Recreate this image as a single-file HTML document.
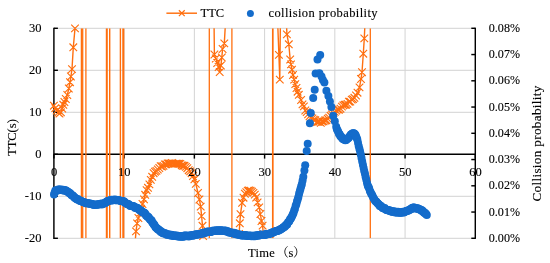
<!DOCTYPE html>
<html><head><meta charset="utf-8"><title>TTC and collision probability</title>
<style>html,body{margin:0;padding:0;background:#fff}svg{display:block}</style></head>
<body>
<svg width="550" height="263" viewBox="0 0 550 263">
<rect width="550" height="263" fill="#fff"/>
<g stroke="#D3D3D3" stroke-width="1" fill="none">
<line x1="53.9" y1="28.30" x2="475.3" y2="28.30"/>
<line x1="53.9" y1="70.30" x2="475.3" y2="70.30"/>
<line x1="53.9" y1="112.30" x2="475.3" y2="112.30"/>
<line x1="53.9" y1="196.30" x2="475.3" y2="196.30"/>
<line x1="53.9" y1="238.30" x2="475.3" y2="238.30"/>
<line x1="124.13" y1="28.3" x2="124.13" y2="238.3"/>
<line x1="194.37" y1="28.3" x2="194.37" y2="238.3"/>
<line x1="264.60" y1="28.3" x2="264.60" y2="238.3"/>
<line x1="334.83" y1="28.3" x2="334.83" y2="238.3"/>
<line x1="405.07" y1="28.3" x2="405.07" y2="238.3"/>
</g>
<g stroke="#000" stroke-width="1.45" fill="none">
<line x1="53.9" y1="27.7" x2="53.9" y2="238.9"/>
<line x1="475.3" y1="27.7" x2="475.3" y2="238.9"/>
<line x1="53.9" y1="154.3" x2="475.3" y2="154.3"/>
<line x1="53.9" y1="28.30" x2="57.9" y2="28.30"/>
<line x1="53.9" y1="70.30" x2="57.9" y2="70.30"/>
<line x1="53.9" y1="112.30" x2="57.9" y2="112.30"/>
<line x1="53.9" y1="154.30" x2="57.9" y2="154.30"/>
<line x1="53.9" y1="196.30" x2="57.9" y2="196.30"/>
<line x1="53.9" y1="238.30" x2="57.9" y2="238.30"/>
<line x1="471.3" y1="238.30" x2="475.3" y2="238.30"/>
<line x1="471.3" y1="212.05" x2="475.3" y2="212.05"/>
<line x1="471.3" y1="185.80" x2="475.3" y2="185.80"/>
<line x1="471.3" y1="159.55" x2="475.3" y2="159.55"/>
<line x1="471.3" y1="133.30" x2="475.3" y2="133.30"/>
<line x1="471.3" y1="107.05" x2="475.3" y2="107.05"/>
<line x1="471.3" y1="80.80" x2="475.3" y2="80.80"/>
<line x1="471.3" y1="54.55" x2="475.3" y2="54.55"/>
<line x1="471.3" y1="28.30" x2="475.3" y2="28.30"/>
<line x1="53.90" y1="154.3" x2="53.90" y2="158.6"/>
<line x1="124.13" y1="154.3" x2="124.13" y2="158.6"/>
<line x1="194.37" y1="154.3" x2="194.37" y2="158.6"/>
<line x1="264.60" y1="154.3" x2="264.60" y2="158.6"/>
<line x1="334.83" y1="154.3" x2="334.83" y2="158.6"/>
<line x1="405.07" y1="154.3" x2="405.07" y2="158.6"/>
<line x1="475.30" y1="154.3" x2="475.30" y2="158.6"/>
</g>
<defs><clipPath id="cp"><rect x="53.9" y="28.3" width="421.40000000000003" height="210.0"/></clipPath></defs>
<g clip-path="url(#cp)" stroke="#FF6F0F" fill="none" stroke-width="1.4" stroke-linejoin="round">
<line x1="81.4" y1="28.3" x2="81.4" y2="238.3" stroke-width="1.3"/>
<line x1="82.7" y1="28.3" x2="82.7" y2="238.3" stroke-width="1.3"/>
<line x1="85.9" y1="28.3" x2="85.9" y2="238.3" stroke-width="1.3"/>
<line x1="106.8" y1="28.3" x2="106.8" y2="238.3" stroke-width="2.0"/>
<line x1="109.7" y1="28.3" x2="109.7" y2="238.3" stroke-width="1.4"/>
<line x1="120.4" y1="28.3" x2="120.4" y2="238.3" stroke-width="1.4"/>
<line x1="123.3" y1="28.3" x2="123.3" y2="238.3" stroke-width="2.1"/>
<line x1="209.3" y1="28.3" x2="209.3" y2="238.3" stroke-width="1.3"/>
<line x1="231.9" y1="28.3" x2="231.9" y2="238.3" stroke-width="1.3"/>
<line x1="272.8" y1="28.3" x2="272.8" y2="238.3" stroke-width="1.7"/>
<line x1="370.3" y1="28.3" x2="370.3" y2="238.3" stroke-width="1.3"/>
<polyline points="53.9,105.7 55.3,108.2 56.7,110.6 58.1,112.5 59.5,113.5 60.9,112.3 62.2,108.5 63.3,104.8 64.4,102.0 65.8,99.0 67.3,95.0 68.8,88.5 70.0,82.2 70.9,76.5 72.0,69.1 73.3,47.3 75.0,28.4 75.6,10.0"/>
<polyline points="134.9,245.0 136.0,231.4 137.1,223.4 138.4,218.0 139.7,213.5 141.1,208.8 142.5,204.0 144.0,199.4 145.2,194.8 146.6,190.2 148.0,187.8 149.4,184.4 150.8,179.9 152.2,176.8 153.6,173.2 155.0,171.7 156.4,170.9 157.8,169.5 159.3,168.0 160.7,166.2 162.1,166.5 163.5,165.9 164.9,164.4 166.3,164.4 167.7,163.5 169.1,163.4 170.5,163.4 171.9,163.0 173.3,163.7 174.7,163.9 176.1,163.6 177.5,163.7 178.9,163.7 180.3,163.9 181.7,165.3 183.1,165.8 184.5,165.8 185.9,166.9 187.3,168.2 188.7,170.2 190.2,171.4 191.6,173.2 193.0,176.0 194.4,179.3 195.8,183.9 198.0,193.0 199.4,199.5 200.7,206.6 201.6,216.0 202.5,225.8 203.1,236.0 203.4,245.0"/>
<polyline points="213.9,10.0 214.4,54.5 215.8,58.5 217.2,63.0 218.6,67.0 219.7,72.1 220.9,65.5 221.8,57.5 222.6,49.0 224.3,43.4 225.3,26.0"/>
<polyline points="238.4,245.0 239.1,234.0 239.8,223.3 240.5,214.2 242.1,202.8 243.5,197.7 244.9,193.7 246.3,192.1 247.7,190.7 249.1,190.5 250.6,190.8 252.0,191.6 253.4,192.9 254.8,194.6 256.2,197.5 257.6,202.4 259.2,207.4 260.4,214.0 261.5,221.0 262.6,225.6 263.3,234.0 264.0,245.0"/>
<polyline points="277.2,10.0 278.9,54.9 279.8,79.6 280.5,10.0"/>
<polyline points="286.4,20.0 286.9,34.4 288.8,44.3 290.2,59.5 291.0,64.4 292.0,69.7 293.0,75.0 294.2,79.6 295.3,84.1 296.5,88.0 297.6,91.7 298.8,94.8 301.1,100.0 302.5,104.4 303.9,106.4 305.3,110.5 306.7,112.0 308.1,114.4 309.5,116.3 311.0,117.6 312.4,118.5 313.8,119.6 315.2,120.2 316.6,122.0 318.0,121.9 319.4,121.7 320.8,122.8 322.2,121.6 323.6,121.4 325.0,120.5 326.4,120.2 327.8,118.8 329.2,117.6 330.6,115.8 332.0,114.5 333.4,113.1 334.8,111.9 336.2,110.5 337.6,109.5 339.0,109.7 340.5,108.7 341.9,106.6 343.3,105.4 344.7,104.8 346.1,104.7 347.5,103.9 348.9,101.7 350.3,101.6 351.7,99.6 353.1,99.1 354.4,97.8 356.0,95.5 357.5,92.7 359.5,87.4 361.0,79.0 362.0,72.2 363.3,53.7 364.3,38.4 365.2,18.0"/>
</g>
<path d="M50.1 101.9l7.6 7.6M50.1 109.5l7.6 -7.6M51.5 104.4l7.6 7.6M51.5 112.0l7.6 -7.6M52.9 106.8l7.6 7.6M52.9 114.4l7.6 -7.6M54.3 108.7l7.6 7.6M54.3 116.3l7.6 -7.6M55.7 109.7l7.6 7.6M55.7 117.3l7.6 -7.6M57.1 108.5l7.6 7.6M57.1 116.1l7.6 -7.6M58.4 104.7l7.6 7.6M58.4 112.3l7.6 -7.6M59.5 101.0l7.6 7.6M59.5 108.6l7.6 -7.6M60.6 98.2l7.6 7.6M60.6 105.8l7.6 -7.6M62.0 95.2l7.6 7.6M62.0 102.8l7.6 -7.6M63.5 91.2l7.6 7.6M63.5 98.8l7.6 -7.6M65.0 84.7l7.6 7.6M65.0 92.3l7.6 -7.6M66.2 78.4l7.6 7.6M66.2 86.0l7.6 -7.6M67.1 72.7l7.6 7.6M67.1 80.3l7.6 -7.6M68.2 65.3l7.6 7.6M68.2 72.9l7.6 -7.6M69.5 43.5l7.6 7.6M69.5 51.1l7.6 -7.6M71.2 24.6l7.6 7.6M71.2 32.2l7.6 -7.6M132.2 227.6l7.6 7.6M132.2 235.2l7.6 -7.6M133.3 219.6l7.6 7.6M133.3 227.2l7.6 -7.6M134.6 214.2l7.6 7.6M134.6 221.8l7.6 -7.6M135.9 209.7l7.6 7.6M135.9 217.3l7.6 -7.6M137.3 205.0l7.6 7.6M137.3 212.6l7.6 -7.6M138.7 200.2l7.6 7.6M138.7 207.8l7.6 -7.6M140.2 195.6l7.6 7.6M140.2 203.2l7.6 -7.6M141.4 191.0l7.6 7.6M141.4 198.6l7.6 -7.6M142.8 186.4l7.6 7.6M142.8 194.0l7.6 -7.6M144.2 184.0l7.6 7.6M144.2 191.6l7.6 -7.6M145.6 180.6l7.6 7.6M145.6 188.2l7.6 -7.6M147.0 176.1l7.6 7.6M147.0 183.7l7.6 -7.6M148.4 173.0l7.6 7.6M148.4 180.6l7.6 -7.6M149.8 169.4l7.6 7.6M149.8 177.0l7.6 -7.6M151.2 167.9l7.6 7.6M151.2 175.5l7.6 -7.6M152.6 167.1l7.6 7.6M152.6 174.7l7.6 -7.6M154.0 165.7l7.6 7.6M154.0 173.3l7.6 -7.6M155.5 164.2l7.6 7.6M155.5 171.8l7.6 -7.6M156.9 162.4l7.6 7.6M156.9 170.0l7.6 -7.6M158.3 162.7l7.6 7.6M158.3 170.3l7.6 -7.6M159.7 162.1l7.6 7.6M159.7 169.7l7.6 -7.6M161.1 160.6l7.6 7.6M161.1 168.2l7.6 -7.6M162.5 160.6l7.6 7.6M162.5 168.2l7.6 -7.6M163.9 159.7l7.6 7.6M163.9 167.3l7.6 -7.6M165.3 159.6l7.6 7.6M165.3 167.2l7.6 -7.6M166.7 159.6l7.6 7.6M166.7 167.2l7.6 -7.6M168.1 159.2l7.6 7.6M168.1 166.8l7.6 -7.6M169.5 159.9l7.6 7.6M169.5 167.5l7.6 -7.6M170.9 160.1l7.6 7.6M170.9 167.7l7.6 -7.6M172.3 159.8l7.6 7.6M172.3 167.4l7.6 -7.6M173.7 159.9l7.6 7.6M173.7 167.5l7.6 -7.6M175.1 159.9l7.6 7.6M175.1 167.5l7.6 -7.6M176.5 160.1l7.6 7.6M176.5 167.7l7.6 -7.6M177.9 161.5l7.6 7.6M177.9 169.1l7.6 -7.6M179.3 162.0l7.6 7.6M179.3 169.6l7.6 -7.6M180.7 162.0l7.6 7.6M180.7 169.6l7.6 -7.6M182.1 163.1l7.6 7.6M182.1 170.7l7.6 -7.6M183.5 164.4l7.6 7.6M183.5 172.0l7.6 -7.6M184.9 166.4l7.6 7.6M184.9 174.0l7.6 -7.6M186.4 167.6l7.6 7.6M186.4 175.2l7.6 -7.6M187.8 169.4l7.6 7.6M187.8 177.0l7.6 -7.6M189.2 172.2l7.6 7.6M189.2 179.8l7.6 -7.6M190.6 175.5l7.6 7.6M190.6 183.1l7.6 -7.6M192.0 180.1l7.6 7.6M192.0 187.7l7.6 -7.6M194.2 189.2l7.6 7.6M194.2 196.8l7.6 -7.6M195.6 195.7l7.6 7.6M195.6 203.3l7.6 -7.6M196.9 202.8l7.6 7.6M196.9 210.4l7.6 -7.6M197.8 212.2l7.6 7.6M197.8 219.8l7.6 -7.6M198.7 222.0l7.6 7.6M198.7 229.6l7.6 -7.6M199.3 232.2l7.6 7.6M199.3 239.8l7.6 -7.6M210.6 50.7l7.6 7.6M210.6 58.3l7.6 -7.6M212.0 54.7l7.6 7.6M212.0 62.3l7.6 -7.6M213.4 59.2l7.6 7.6M213.4 66.8l7.6 -7.6M214.8 63.2l7.6 7.6M214.8 70.8l7.6 -7.6M215.9 68.3l7.6 7.6M215.9 75.9l7.6 -7.6M217.1 61.7l7.6 7.6M217.1 69.3l7.6 -7.6M218.0 53.7l7.6 7.6M218.0 61.3l7.6 -7.6M218.8 45.2l7.6 7.6M218.8 52.8l7.6 -7.6M220.5 39.6l7.6 7.6M220.5 47.2l7.6 -7.6M235.3 230.2l7.6 7.6M235.3 237.8l7.6 -7.6M236.0 219.5l7.6 7.6M236.0 227.1l7.6 -7.6M236.7 210.4l7.6 7.6M236.7 218.0l7.6 -7.6M238.3 199.0l7.6 7.6M238.3 206.6l7.6 -7.6M239.7 193.9l7.6 7.6M239.7 201.5l7.6 -7.6M241.1 189.9l7.6 7.6M241.1 197.5l7.6 -7.6M242.5 188.3l7.6 7.6M242.5 195.9l7.6 -7.6M243.9 186.9l7.6 7.6M243.9 194.5l7.6 -7.6M245.3 186.7l7.6 7.6M245.3 194.3l7.6 -7.6M246.8 187.0l7.6 7.6M246.8 194.6l7.6 -7.6M248.2 187.8l7.6 7.6M248.2 195.4l7.6 -7.6M249.6 189.1l7.6 7.6M249.6 196.7l7.6 -7.6M251.0 190.8l7.6 7.6M251.0 198.4l7.6 -7.6M252.4 193.7l7.6 7.6M252.4 201.3l7.6 -7.6M253.8 198.6l7.6 7.6M253.8 206.2l7.6 -7.6M255.4 203.6l7.6 7.6M255.4 211.2l7.6 -7.6M256.6 210.2l7.6 7.6M256.6 217.8l7.6 -7.6M257.7 217.2l7.6 7.6M257.7 224.8l7.6 -7.6M258.8 221.8l7.6 7.6M258.8 229.4l7.6 -7.6M259.5 230.2l7.6 7.6M259.5 237.8l7.6 -7.6M275.1 51.1l7.6 7.6M275.1 58.7l7.6 -7.6M276.0 75.8l7.6 7.6M276.0 83.4l7.6 -7.6M283.1 30.6l7.6 7.6M283.1 38.2l7.6 -7.6M285.0 40.5l7.6 7.6M285.0 48.1l7.6 -7.6M286.4 55.7l7.6 7.6M286.4 63.3l7.6 -7.6M287.2 60.6l7.6 7.6M287.2 68.2l7.6 -7.6M288.2 65.9l7.6 7.6M288.2 73.5l7.6 -7.6M289.2 71.2l7.6 7.6M289.2 78.8l7.6 -7.6M290.4 75.8l7.6 7.6M290.4 83.4l7.6 -7.6M291.5 80.3l7.6 7.6M291.5 87.9l7.6 -7.6M292.7 84.2l7.6 7.6M292.7 91.8l7.6 -7.6M293.8 87.9l7.6 7.6M293.8 95.5l7.6 -7.6M295.0 91.0l7.6 7.6M295.0 98.6l7.6 -7.6M297.3 96.2l7.6 7.6M297.3 103.8l7.6 -7.6M298.7 100.6l7.6 7.6M298.7 108.2l7.6 -7.6M300.1 102.6l7.6 7.6M300.1 110.2l7.6 -7.6M301.5 106.7l7.6 7.6M301.5 114.3l7.6 -7.6M302.9 108.2l7.6 7.6M302.9 115.8l7.6 -7.6M304.3 110.6l7.6 7.6M304.3 118.2l7.6 -7.6M305.7 112.5l7.6 7.6M305.7 120.1l7.6 -7.6M307.2 113.8l7.6 7.6M307.2 121.4l7.6 -7.6M308.6 114.7l7.6 7.6M308.6 122.3l7.6 -7.6M310.0 115.8l7.6 7.6M310.0 123.4l7.6 -7.6M311.4 116.4l7.6 7.6M311.4 124.0l7.6 -7.6M312.8 118.2l7.6 7.6M312.8 125.8l7.6 -7.6M314.2 118.1l7.6 7.6M314.2 125.7l7.6 -7.6M315.6 117.9l7.6 7.6M315.6 125.5l7.6 -7.6M317.0 119.0l7.6 7.6M317.0 126.6l7.6 -7.6M318.4 117.8l7.6 7.6M318.4 125.4l7.6 -7.6M319.8 117.6l7.6 7.6M319.8 125.2l7.6 -7.6M321.2 116.7l7.6 7.6M321.2 124.3l7.6 -7.6M322.6 116.4l7.6 7.6M322.6 124.0l7.6 -7.6M324.0 115.0l7.6 7.6M324.0 122.6l7.6 -7.6M325.4 113.8l7.6 7.6M325.4 121.4l7.6 -7.6M326.8 112.0l7.6 7.6M326.8 119.6l7.6 -7.6M328.2 110.7l7.6 7.6M328.2 118.3l7.6 -7.6M329.6 109.3l7.6 7.6M329.6 116.9l7.6 -7.6M331.0 108.1l7.6 7.6M331.0 115.7l7.6 -7.6M332.4 106.7l7.6 7.6M332.4 114.3l7.6 -7.6M333.8 105.7l7.6 7.6M333.8 113.3l7.6 -7.6M335.2 105.9l7.6 7.6M335.2 113.5l7.6 -7.6M336.7 104.9l7.6 7.6M336.7 112.5l7.6 -7.6M338.1 102.8l7.6 7.6M338.1 110.4l7.6 -7.6M339.5 101.6l7.6 7.6M339.5 109.2l7.6 -7.6M340.9 101.0l7.6 7.6M340.9 108.6l7.6 -7.6M342.3 100.9l7.6 7.6M342.3 108.5l7.6 -7.6M343.7 100.1l7.6 7.6M343.7 107.7l7.6 -7.6M345.1 97.9l7.6 7.6M345.1 105.5l7.6 -7.6M346.5 97.8l7.6 7.6M346.5 105.4l7.6 -7.6M347.9 95.8l7.6 7.6M347.9 103.4l7.6 -7.6M349.3 95.3l7.6 7.6M349.3 102.9l7.6 -7.6M350.6 94.0l7.6 7.6M350.6 101.6l7.6 -7.6M352.2 91.7l7.6 7.6M352.2 99.3l7.6 -7.6M353.7 88.9l7.6 7.6M353.7 96.5l7.6 -7.6M355.7 83.6l7.6 7.6M355.7 91.2l7.6 -7.6M357.2 75.2l7.6 7.6M357.2 82.8l7.6 -7.6M358.2 68.4l7.6 7.6M358.2 76.0l7.6 -7.6M359.5 49.9l7.6 7.6M359.5 57.5l7.6 -7.6M360.5 34.6l7.6 7.6M360.5 42.2l7.6 -7.6" stroke="#FF6F0F" stroke-width="1.15" fill="none"/>
<g fill="#146CCB">
<circle cx="54.0" cy="194.4" r="4.0"/>
<circle cx="54.7" cy="192.4" r="4.0"/>
<circle cx="55.4" cy="190.6" r="4.0"/>
<circle cx="56.1" cy="190.5" r="4.0"/>
<circle cx="56.8" cy="190.6" r="4.0"/>
<circle cx="57.5" cy="190.5" r="4.0"/>
<circle cx="58.2" cy="189.6" r="4.0"/>
<circle cx="58.9" cy="189.7" r="4.0"/>
<circle cx="59.6" cy="189.5" r="4.0"/>
<circle cx="60.3" cy="189.9" r="4.0"/>
<circle cx="61.0" cy="189.5" r="4.0"/>
<circle cx="61.7" cy="190.0" r="4.0"/>
<circle cx="62.4" cy="190.2" r="4.0"/>
<circle cx="63.1" cy="189.8" r="4.0"/>
<circle cx="63.8" cy="190.4" r="4.0"/>
<circle cx="64.5" cy="190.4" r="4.0"/>
<circle cx="65.2" cy="190.0" r="4.0"/>
<circle cx="65.9" cy="190.8" r="4.0"/>
<circle cx="66.6" cy="190.9" r="4.0"/>
<circle cx="67.3" cy="191.5" r="4.0"/>
<circle cx="68.0" cy="191.8" r="4.0"/>
<circle cx="68.7" cy="192.7" r="4.0"/>
<circle cx="69.5" cy="193.0" r="4.0"/>
<circle cx="70.2" cy="193.3" r="4.0"/>
<circle cx="70.9" cy="194.3" r="4.0"/>
<circle cx="71.6" cy="195.2" r="4.0"/>
<circle cx="72.3" cy="195.2" r="4.0"/>
<circle cx="73.0" cy="195.7" r="4.0"/>
<circle cx="73.7" cy="196.4" r="4.0"/>
<circle cx="74.4" cy="197.5" r="4.0"/>
<circle cx="75.1" cy="198.1" r="4.0"/>
<circle cx="75.8" cy="198.2" r="4.0"/>
<circle cx="76.5" cy="199.0" r="4.0"/>
<circle cx="77.2" cy="199.4" r="4.0"/>
<circle cx="77.9" cy="199.3" r="4.0"/>
<circle cx="78.6" cy="199.4" r="4.0"/>
<circle cx="79.3" cy="200.4" r="4.0"/>
<circle cx="80.0" cy="200.8" r="4.0"/>
<circle cx="80.7" cy="200.9" r="4.0"/>
<circle cx="81.4" cy="201.1" r="4.0"/>
<circle cx="82.1" cy="201.6" r="4.0"/>
<circle cx="82.8" cy="201.9" r="4.0"/>
<circle cx="83.5" cy="202.0" r="4.0"/>
<circle cx="84.2" cy="202.2" r="4.0"/>
<circle cx="84.9" cy="202.6" r="4.0"/>
<circle cx="85.6" cy="203.3" r="4.0"/>
<circle cx="86.3" cy="203.2" r="4.0"/>
<circle cx="87.0" cy="203.0" r="4.0"/>
<circle cx="87.7" cy="203.2" r="4.0"/>
<circle cx="88.4" cy="203.5" r="4.0"/>
<circle cx="89.1" cy="203.4" r="4.0"/>
<circle cx="89.8" cy="203.5" r="4.0"/>
<circle cx="90.5" cy="204.0" r="4.0"/>
<circle cx="91.2" cy="203.7" r="4.0"/>
<circle cx="91.9" cy="204.2" r="4.0"/>
<circle cx="92.6" cy="204.2" r="4.0"/>
<circle cx="93.3" cy="204.7" r="4.0"/>
<circle cx="94.0" cy="204.8" r="4.0"/>
<circle cx="94.7" cy="204.8" r="4.0"/>
<circle cx="95.4" cy="204.8" r="4.0"/>
<circle cx="96.1" cy="204.4" r="4.0"/>
<circle cx="96.8" cy="204.8" r="4.0"/>
<circle cx="97.5" cy="204.4" r="4.0"/>
<circle cx="98.2" cy="204.6" r="4.0"/>
<circle cx="98.9" cy="204.3" r="4.0"/>
<circle cx="99.7" cy="204.3" r="4.0"/>
<circle cx="100.4" cy="203.8" r="4.0"/>
<circle cx="101.1" cy="203.8" r="4.0"/>
<circle cx="101.8" cy="204.4" r="4.0"/>
<circle cx="102.5" cy="203.4" r="4.0"/>
<circle cx="103.2" cy="203.7" r="4.0"/>
<circle cx="103.9" cy="203.4" r="4.0"/>
<circle cx="104.6" cy="203.3" r="4.0"/>
<circle cx="105.3" cy="202.7" r="4.0"/>
<circle cx="106.0" cy="202.5" r="4.0"/>
<circle cx="106.7" cy="201.6" r="4.0"/>
<circle cx="107.4" cy="201.3" r="4.0"/>
<circle cx="108.1" cy="201.1" r="4.0"/>
<circle cx="108.8" cy="200.8" r="4.0"/>
<circle cx="109.5" cy="200.4" r="4.0"/>
<circle cx="110.2" cy="200.2" r="4.0"/>
<circle cx="110.9" cy="200.4" r="4.0"/>
<circle cx="111.6" cy="199.8" r="4.0"/>
<circle cx="112.3" cy="200.4" r="4.0"/>
<circle cx="113.0" cy="199.9" r="4.0"/>
<circle cx="113.7" cy="199.7" r="4.0"/>
<circle cx="114.4" cy="199.9" r="4.0"/>
<circle cx="115.1" cy="199.5" r="4.0"/>
<circle cx="115.8" cy="200.2" r="4.0"/>
<circle cx="116.5" cy="200.2" r="4.0"/>
<circle cx="117.2" cy="200.1" r="4.0"/>
<circle cx="117.9" cy="199.9" r="4.0"/>
<circle cx="118.6" cy="200.3" r="4.0"/>
<circle cx="119.3" cy="200.4" r="4.0"/>
<circle cx="120.0" cy="200.5" r="4.0"/>
<circle cx="120.7" cy="201.0" r="4.0"/>
<circle cx="121.4" cy="200.9" r="4.0"/>
<circle cx="122.1" cy="200.9" r="4.0"/>
<circle cx="122.8" cy="201.4" r="4.0"/>
<circle cx="123.5" cy="201.3" r="4.0"/>
<circle cx="124.2" cy="201.6" r="4.0"/>
<circle cx="124.9" cy="202.5" r="4.0"/>
<circle cx="125.6" cy="203.0" r="4.0"/>
<circle cx="126.3" cy="203.6" r="4.0"/>
<circle cx="127.0" cy="203.9" r="4.0"/>
<circle cx="127.7" cy="204.0" r="4.0"/>
<circle cx="128.4" cy="204.0" r="4.0"/>
<circle cx="129.1" cy="204.8" r="4.0"/>
<circle cx="129.9" cy="205.7" r="4.0"/>
<circle cx="130.6" cy="205.9" r="4.0"/>
<circle cx="131.3" cy="205.8" r="4.0"/>
<circle cx="132.0" cy="206.1" r="4.0"/>
<circle cx="132.7" cy="206.1" r="4.0"/>
<circle cx="133.4" cy="206.3" r="4.0"/>
<circle cx="134.1" cy="206.5" r="4.0"/>
<circle cx="134.8" cy="207.7" r="4.0"/>
<circle cx="135.5" cy="207.7" r="4.0"/>
<circle cx="136.2" cy="207.5" r="4.0"/>
<circle cx="136.9" cy="208.2" r="4.0"/>
<circle cx="137.6" cy="208.1" r="4.0"/>
<circle cx="138.3" cy="208.7" r="4.0"/>
<circle cx="139.0" cy="209.7" r="4.0"/>
<circle cx="139.7" cy="210.1" r="4.0"/>
<circle cx="140.4" cy="210.4" r="4.0"/>
<circle cx="141.1" cy="210.6" r="4.0"/>
<circle cx="141.8" cy="211.6" r="4.0"/>
<circle cx="142.5" cy="212.4" r="4.0"/>
<circle cx="143.2" cy="212.4" r="4.0"/>
<circle cx="143.9" cy="212.6" r="4.0"/>
<circle cx="144.6" cy="213.1" r="4.0"/>
<circle cx="145.3" cy="213.8" r="4.0"/>
<circle cx="146.0" cy="215.4" r="4.0"/>
<circle cx="146.7" cy="215.7" r="4.0"/>
<circle cx="147.4" cy="216.7" r="4.0"/>
<circle cx="148.1" cy="216.7" r="4.0"/>
<circle cx="148.8" cy="217.6" r="4.0"/>
<circle cx="149.5" cy="218.8" r="4.0"/>
<circle cx="150.2" cy="219.8" r="4.0"/>
<circle cx="150.9" cy="220.0" r="4.0"/>
<circle cx="151.6" cy="220.6" r="4.0"/>
<circle cx="152.3" cy="222.5" r="4.0"/>
<circle cx="153.0" cy="222.9" r="4.0"/>
<circle cx="153.7" cy="224.4" r="4.0"/>
<circle cx="154.4" cy="224.8" r="4.0"/>
<circle cx="155.1" cy="226.4" r="4.0"/>
<circle cx="155.8" cy="227.4" r="4.0"/>
<circle cx="156.5" cy="228.1" r="4.0"/>
<circle cx="157.2" cy="228.4" r="4.0"/>
<circle cx="157.9" cy="229.4" r="4.0"/>
<circle cx="158.6" cy="229.4" r="4.0"/>
<circle cx="159.4" cy="230.2" r="4.0"/>
<circle cx="160.1" cy="230.9" r="4.0"/>
<circle cx="160.8" cy="231.9" r="4.0"/>
<circle cx="161.5" cy="231.6" r="4.0"/>
<circle cx="162.2" cy="232.8" r="4.0"/>
<circle cx="162.9" cy="233.1" r="4.0"/>
<circle cx="163.6" cy="233.5" r="4.0"/>
<circle cx="164.3" cy="233.2" r="4.0"/>
<circle cx="165.0" cy="233.2" r="4.0"/>
<circle cx="165.7" cy="233.5" r="4.0"/>
<circle cx="166.4" cy="234.4" r="4.0"/>
<circle cx="167.1" cy="234.7" r="4.0"/>
<circle cx="167.8" cy="234.6" r="4.0"/>
<circle cx="168.5" cy="234.6" r="4.0"/>
<circle cx="169.2" cy="234.5" r="4.0"/>
<circle cx="169.9" cy="235.3" r="4.0"/>
<circle cx="170.6" cy="235.4" r="4.0"/>
<circle cx="171.3" cy="234.7" r="4.0"/>
<circle cx="172.0" cy="234.9" r="4.0"/>
<circle cx="172.7" cy="235.7" r="4.0"/>
<circle cx="173.4" cy="235.9" r="4.0"/>
<circle cx="174.1" cy="235.4" r="4.0"/>
<circle cx="174.8" cy="235.4" r="4.0"/>
<circle cx="175.5" cy="235.7" r="4.0"/>
<circle cx="176.2" cy="235.9" r="4.0"/>
<circle cx="176.9" cy="235.5" r="4.0"/>
<circle cx="177.6" cy="236.4" r="4.0"/>
<circle cx="178.3" cy="236.1" r="4.0"/>
<circle cx="179.0" cy="236.4" r="4.0"/>
<circle cx="179.7" cy="235.9" r="4.0"/>
<circle cx="180.4" cy="236.7" r="4.0"/>
<circle cx="181.1" cy="236.5" r="4.0"/>
<circle cx="181.8" cy="236.0" r="4.0"/>
<circle cx="182.5" cy="236.7" r="4.0"/>
<circle cx="183.2" cy="236.4" r="4.0"/>
<circle cx="183.9" cy="236.5" r="4.0"/>
<circle cx="184.6" cy="235.6" r="4.0"/>
<circle cx="185.3" cy="235.6" r="4.0"/>
<circle cx="186.0" cy="236.3" r="4.0"/>
<circle cx="186.7" cy="235.8" r="4.0"/>
<circle cx="187.4" cy="236.0" r="4.0"/>
<circle cx="188.1" cy="235.5" r="4.0"/>
<circle cx="188.8" cy="236.4" r="4.0"/>
<circle cx="189.6" cy="235.8" r="4.0"/>
<circle cx="190.3" cy="236.1" r="4.0"/>
<circle cx="191.0" cy="235.2" r="4.0"/>
<circle cx="191.7" cy="235.6" r="4.0"/>
<circle cx="192.4" cy="235.0" r="4.0"/>
<circle cx="193.1" cy="235.8" r="4.0"/>
<circle cx="193.8" cy="235.3" r="4.0"/>
<circle cx="194.5" cy="234.7" r="4.0"/>
<circle cx="195.2" cy="234.6" r="4.0"/>
<circle cx="195.9" cy="235.0" r="4.0"/>
<circle cx="196.6" cy="234.3" r="4.0"/>
<circle cx="197.3" cy="234.3" r="4.0"/>
<circle cx="198.0" cy="234.4" r="4.0"/>
<circle cx="198.7" cy="234.3" r="4.0"/>
<circle cx="199.4" cy="234.2" r="4.0"/>
<circle cx="200.1" cy="234.1" r="4.0"/>
<circle cx="200.8" cy="233.7" r="4.0"/>
<circle cx="201.5" cy="233.8" r="4.0"/>
<circle cx="202.2" cy="233.1" r="4.0"/>
<circle cx="202.9" cy="233.1" r="4.0"/>
<circle cx="203.6" cy="233.5" r="4.0"/>
<circle cx="204.3" cy="232.6" r="4.0"/>
<circle cx="205.0" cy="232.5" r="4.0"/>
<circle cx="205.7" cy="232.4" r="4.0"/>
<circle cx="206.4" cy="232.4" r="4.0"/>
<circle cx="207.1" cy="231.7" r="4.0"/>
<circle cx="207.8" cy="231.6" r="4.0"/>
<circle cx="208.5" cy="231.9" r="4.0"/>
<circle cx="209.2" cy="231.5" r="4.0"/>
<circle cx="209.9" cy="231.9" r="4.0"/>
<circle cx="210.6" cy="231.9" r="4.0"/>
<circle cx="211.3" cy="231.6" r="4.0"/>
<circle cx="212.0" cy="231.6" r="4.0"/>
<circle cx="212.7" cy="231.1" r="4.0"/>
<circle cx="213.4" cy="230.6" r="4.0"/>
<circle cx="214.1" cy="230.9" r="4.0"/>
<circle cx="214.8" cy="230.8" r="4.0"/>
<circle cx="215.5" cy="230.9" r="4.0"/>
<circle cx="216.2" cy="230.3" r="4.0"/>
<circle cx="216.9" cy="230.4" r="4.0"/>
<circle cx="217.6" cy="230.9" r="4.0"/>
<circle cx="218.3" cy="230.3" r="4.0"/>
<circle cx="219.0" cy="230.4" r="4.0"/>
<circle cx="219.8" cy="231.0" r="4.0"/>
<circle cx="220.5" cy="230.3" r="4.0"/>
<circle cx="221.2" cy="230.2" r="4.0"/>
<circle cx="221.9" cy="230.8" r="4.0"/>
<circle cx="222.6" cy="230.8" r="4.0"/>
<circle cx="223.3" cy="230.9" r="4.0"/>
<circle cx="224.0" cy="230.4" r="4.0"/>
<circle cx="224.7" cy="231.0" r="4.0"/>
<circle cx="225.4" cy="230.6" r="4.0"/>
<circle cx="226.1" cy="231.1" r="4.0"/>
<circle cx="226.8" cy="231.7" r="4.0"/>
<circle cx="227.5" cy="231.2" r="4.0"/>
<circle cx="228.2" cy="231.6" r="4.0"/>
<circle cx="228.9" cy="232.5" r="4.0"/>
<circle cx="229.6" cy="232.6" r="4.0"/>
<circle cx="230.3" cy="232.2" r="4.0"/>
<circle cx="231.0" cy="232.7" r="4.0"/>
<circle cx="231.7" cy="232.7" r="4.0"/>
<circle cx="232.4" cy="232.8" r="4.0"/>
<circle cx="233.1" cy="233.4" r="4.0"/>
<circle cx="233.8" cy="232.8" r="4.0"/>
<circle cx="234.5" cy="233.8" r="4.0"/>
<circle cx="235.2" cy="233.1" r="4.0"/>
<circle cx="235.9" cy="234.2" r="4.0"/>
<circle cx="236.6" cy="234.2" r="4.0"/>
<circle cx="237.3" cy="234.2" r="4.0"/>
<circle cx="238.0" cy="234.6" r="4.0"/>
<circle cx="238.7" cy="234.6" r="4.0"/>
<circle cx="239.4" cy="235.1" r="4.0"/>
<circle cx="240.1" cy="234.5" r="4.0"/>
<circle cx="240.8" cy="235.0" r="4.0"/>
<circle cx="241.5" cy="235.5" r="4.0"/>
<circle cx="242.2" cy="235.6" r="4.0"/>
<circle cx="242.9" cy="234.9" r="4.0"/>
<circle cx="243.6" cy="235.0" r="4.0"/>
<circle cx="244.3" cy="235.8" r="4.0"/>
<circle cx="245.0" cy="235.3" r="4.0"/>
<circle cx="245.7" cy="235.0" r="4.0"/>
<circle cx="246.4" cy="235.8" r="4.0"/>
<circle cx="247.1" cy="235.5" r="4.0"/>
<circle cx="247.8" cy="235.9" r="4.0"/>
<circle cx="248.5" cy="235.7" r="4.0"/>
<circle cx="249.2" cy="235.7" r="4.0"/>
<circle cx="250.0" cy="235.7" r="4.0"/>
<circle cx="250.7" cy="235.6" r="4.0"/>
<circle cx="251.4" cy="236.2" r="4.0"/>
<circle cx="252.1" cy="236.0" r="4.0"/>
<circle cx="252.8" cy="236.1" r="4.0"/>
<circle cx="253.5" cy="236.2" r="4.0"/>
<circle cx="254.2" cy="235.5" r="4.0"/>
<circle cx="254.9" cy="236.2" r="4.0"/>
<circle cx="255.6" cy="236.1" r="4.0"/>
<circle cx="256.3" cy="235.6" r="4.0"/>
<circle cx="257.0" cy="235.6" r="4.0"/>
<circle cx="257.7" cy="235.1" r="4.0"/>
<circle cx="258.4" cy="235.7" r="4.0"/>
<circle cx="259.1" cy="235.0" r="4.0"/>
<circle cx="259.8" cy="235.3" r="4.0"/>
<circle cx="260.5" cy="234.8" r="4.0"/>
<circle cx="261.2" cy="234.6" r="4.0"/>
<circle cx="261.9" cy="235.1" r="4.0"/>
<circle cx="262.6" cy="234.9" r="4.0"/>
<circle cx="263.3" cy="235.0" r="4.0"/>
<circle cx="264.0" cy="235.0" r="4.0"/>
<circle cx="264.7" cy="235.1" r="4.0"/>
<circle cx="265.4" cy="234.0" r="4.0"/>
<circle cx="266.1" cy="234.5" r="4.0"/>
<circle cx="266.8" cy="234.3" r="4.0"/>
<circle cx="267.5" cy="234.2" r="4.0"/>
<circle cx="268.2" cy="233.9" r="4.0"/>
<circle cx="268.9" cy="233.8" r="4.0"/>
<circle cx="269.6" cy="233.9" r="4.0"/>
<circle cx="270.3" cy="233.3" r="4.0"/>
<circle cx="271.0" cy="233.2" r="4.0"/>
<circle cx="271.7" cy="233.2" r="4.0"/>
<circle cx="272.4" cy="232.3" r="4.0"/>
<circle cx="273.1" cy="232.5" r="4.0"/>
<circle cx="273.8" cy="231.9" r="4.0"/>
<circle cx="274.5" cy="231.7" r="4.0"/>
<circle cx="275.2" cy="231.3" r="4.0"/>
<circle cx="275.9" cy="231.2" r="4.0"/>
<circle cx="276.6" cy="230.9" r="4.0"/>
<circle cx="277.3" cy="230.9" r="4.0"/>
<circle cx="278.0" cy="230.6" r="4.0"/>
<circle cx="278.7" cy="230.5" r="4.0"/>
<circle cx="279.4" cy="229.8" r="4.0"/>
<circle cx="280.2" cy="229.8" r="4.0"/>
<circle cx="280.9" cy="228.9" r="4.0"/>
<circle cx="281.6" cy="228.8" r="4.0"/>
<circle cx="282.3" cy="228.2" r="4.0"/>
<circle cx="283.0" cy="227.8" r="4.0"/>
<circle cx="283.7" cy="226.9" r="4.0"/>
<circle cx="284.4" cy="227.0" r="4.0"/>
<circle cx="285.1" cy="226.3" r="4.0"/>
<circle cx="285.8" cy="224.9" r="4.0"/>
<circle cx="286.5" cy="224.7" r="4.0"/>
<circle cx="287.2" cy="224.4" r="4.0"/>
<circle cx="287.9" cy="222.5" r="4.0"/>
<circle cx="288.6" cy="221.8" r="4.0"/>
<circle cx="289.3" cy="221.2" r="4.0"/>
<circle cx="290.0" cy="219.3" r="4.0"/>
<circle cx="290.7" cy="218.8" r="4.0"/>
<circle cx="291.4" cy="217.4" r="4.0"/>
<circle cx="292.1" cy="216.1" r="4.0"/>
<circle cx="292.8" cy="214.4" r="4.0"/>
<circle cx="293.5" cy="213.1" r="4.0"/>
<circle cx="294.2" cy="210.6" r="4.0"/>
<circle cx="294.9" cy="208.9" r="4.0"/>
<circle cx="295.6" cy="206.1" r="4.0"/>
<circle cx="296.3" cy="204.3" r="4.0"/>
<circle cx="297.0" cy="201.6" r="4.0"/>
<circle cx="297.7" cy="199.6" r="4.0"/>
<circle cx="298.4" cy="197.0" r="4.0"/>
<circle cx="299.1" cy="193.7" r="4.0"/>
<circle cx="299.8" cy="191.2" r="4.0"/>
<circle cx="300.5" cy="188.8" r="4.0"/>
<circle cx="301.2" cy="186.2" r="4.0"/>
<circle cx="301.9" cy="183.9" r="4.0"/>
<circle cx="302.6" cy="180.4" r="4.0"/>
<circle cx="303.3" cy="176.7" r="4.0"/>
<circle cx="304.4" cy="170.5" r="4.0"/>
<circle cx="305.2" cy="165.3" r="4.0"/>
<circle cx="306.7" cy="150.9" r="4.0"/>
<circle cx="307.7" cy="143.7" r="4.0"/>
<circle cx="309.9" cy="123.2" r="4.0"/>
<circle cx="310.8" cy="113.1" r="4.0"/>
<circle cx="313.2" cy="98.1" r="4.0"/>
<circle cx="314.7" cy="89.8" r="4.0"/>
<circle cx="315.6" cy="73.5" r="4.0"/>
<circle cx="317.5" cy="59.5" r="4.0"/>
<circle cx="320.2" cy="55.0" r="4.0"/>
<circle cx="319.4" cy="73.3" r="4.0"/>
<circle cx="321.5" cy="76.6" r="4.0"/>
<circle cx="322.9" cy="80.1" r="4.0"/>
<circle cx="324.4" cy="82.5" r="4.0"/>
<circle cx="326.4" cy="90.7" r="4.0"/>
<circle cx="328.4" cy="96.1" r="4.0"/>
<circle cx="329.9" cy="101.6" r="4.0"/>
<circle cx="331.4" cy="107.1" r="4.0"/>
<circle cx="333.2" cy="115.7" r="4.0"/>
<circle cx="334.8" cy="121.3" r="4.0"/>
<circle cx="336.2" cy="126.8" r="4.0"/>
<circle cx="336.9" cy="129.3" r="4.0"/>
<circle cx="337.6" cy="130.6" r="4.0"/>
<circle cx="338.3" cy="131.9" r="4.0"/>
<circle cx="339.0" cy="134.1" r="4.0"/>
<circle cx="339.7" cy="134.3" r="4.0"/>
<circle cx="340.4" cy="136.3" r="4.0"/>
<circle cx="341.1" cy="136.5" r="4.0"/>
<circle cx="341.8" cy="137.4" r="4.0"/>
<circle cx="342.5" cy="138.8" r="4.0"/>
<circle cx="343.2" cy="138.7" r="4.0"/>
<circle cx="343.9" cy="139.4" r="4.0"/>
<circle cx="344.6" cy="139.5" r="4.0"/>
<circle cx="345.3" cy="140.2" r="4.0"/>
<circle cx="346.0" cy="140.0" r="4.0"/>
<circle cx="346.7" cy="139.4" r="4.0"/>
<circle cx="347.4" cy="138.4" r="4.0"/>
<circle cx="348.1" cy="138.2" r="4.0"/>
<circle cx="348.8" cy="137.7" r="4.0"/>
<circle cx="349.5" cy="136.5" r="4.0"/>
<circle cx="350.2" cy="135.7" r="4.0"/>
<circle cx="350.9" cy="134.5" r="4.0"/>
<circle cx="351.6" cy="134.2" r="4.0"/>
<circle cx="352.4" cy="133.6" r="4.0"/>
<circle cx="353.1" cy="133.3" r="4.0"/>
<circle cx="353.8" cy="133.3" r="4.0"/>
<circle cx="354.5" cy="133.8" r="4.0"/>
<circle cx="355.2" cy="134.5" r="4.0"/>
<circle cx="355.9" cy="135.7" r="4.0"/>
<circle cx="356.6" cy="137.8" r="4.0"/>
<circle cx="357.3" cy="139.6" r="4.0"/>
<circle cx="358.0" cy="142.8" r="4.0"/>
<circle cx="358.7" cy="146.0" r="4.0"/>
<circle cx="359.4" cy="148.8" r="4.0"/>
<circle cx="360.1" cy="151.5" r="4.0"/>
<circle cx="360.8" cy="154.4" r="4.0"/>
<circle cx="361.5" cy="157.9" r="4.0"/>
<circle cx="362.2" cy="161.4" r="4.0"/>
<circle cx="362.9" cy="164.7" r="4.0"/>
<circle cx="363.6" cy="167.9" r="4.0"/>
<circle cx="364.3" cy="171.3" r="4.0"/>
<circle cx="365.0" cy="174.0" r="4.0"/>
<circle cx="365.7" cy="177.3" r="4.0"/>
<circle cx="366.4" cy="180.0" r="4.0"/>
<circle cx="367.1" cy="183.2" r="4.0"/>
<circle cx="367.8" cy="185.8" r="4.0"/>
<circle cx="368.5" cy="186.9" r="4.0"/>
<circle cx="369.2" cy="188.6" r="4.0"/>
<circle cx="369.9" cy="191.1" r="4.0"/>
<circle cx="370.6" cy="192.2" r="4.0"/>
<circle cx="371.3" cy="193.9" r="4.0"/>
<circle cx="372.0" cy="194.8" r="4.0"/>
<circle cx="372.7" cy="196.2" r="4.0"/>
<circle cx="373.4" cy="197.9" r="4.0"/>
<circle cx="374.1" cy="198.9" r="4.0"/>
<circle cx="374.8" cy="200.2" r="4.0"/>
<circle cx="375.5" cy="201.2" r="4.0"/>
<circle cx="376.2" cy="201.4" r="4.0"/>
<circle cx="376.9" cy="202.6" r="4.0"/>
<circle cx="377.6" cy="203.2" r="4.0"/>
<circle cx="378.3" cy="204.0" r="4.0"/>
<circle cx="379.0" cy="204.6" r="4.0"/>
<circle cx="379.7" cy="205.9" r="4.0"/>
<circle cx="380.4" cy="206.0" r="4.0"/>
<circle cx="381.1" cy="206.0" r="4.0"/>
<circle cx="381.8" cy="207.1" r="4.0"/>
<circle cx="382.6" cy="207.9" r="4.0"/>
<circle cx="383.3" cy="208.2" r="4.0"/>
<circle cx="384.0" cy="208.3" r="4.0"/>
<circle cx="384.7" cy="208.1" r="4.0"/>
<circle cx="385.4" cy="209.3" r="4.0"/>
<circle cx="386.1" cy="209.8" r="4.0"/>
<circle cx="386.8" cy="209.9" r="4.0"/>
<circle cx="387.5" cy="209.9" r="4.0"/>
<circle cx="388.2" cy="210.1" r="4.0"/>
<circle cx="388.9" cy="210.8" r="4.0"/>
<circle cx="389.6" cy="210.3" r="4.0"/>
<circle cx="390.3" cy="211.3" r="4.0"/>
<circle cx="391.0" cy="211.2" r="4.0"/>
<circle cx="391.7" cy="210.9" r="4.0"/>
<circle cx="392.4" cy="211.9" r="4.0"/>
<circle cx="393.1" cy="211.6" r="4.0"/>
<circle cx="393.8" cy="211.4" r="4.0"/>
<circle cx="394.5" cy="211.6" r="4.0"/>
<circle cx="395.2" cy="212.4" r="4.0"/>
<circle cx="395.9" cy="211.7" r="4.0"/>
<circle cx="396.6" cy="212.5" r="4.0"/>
<circle cx="397.3" cy="212.6" r="4.0"/>
<circle cx="398.0" cy="211.8" r="4.0"/>
<circle cx="398.7" cy="212.3" r="4.0"/>
<circle cx="399.4" cy="212.7" r="4.0"/>
<circle cx="400.1" cy="212.4" r="4.0"/>
<circle cx="400.8" cy="212.8" r="4.0"/>
<circle cx="401.5" cy="212.2" r="4.0"/>
<circle cx="402.2" cy="212.4" r="4.0"/>
<circle cx="402.9" cy="211.8" r="4.0"/>
<circle cx="403.6" cy="212.4" r="4.0"/>
<circle cx="404.3" cy="212.2" r="4.0"/>
<circle cx="405.0" cy="211.7" r="4.0"/>
<circle cx="405.7" cy="211.3" r="4.0"/>
<circle cx="406.4" cy="211.1" r="4.0"/>
<circle cx="407.1" cy="211.1" r="4.0"/>
<circle cx="407.8" cy="210.4" r="4.0"/>
<circle cx="408.5" cy="210.6" r="4.0"/>
<circle cx="409.2" cy="210.0" r="4.0"/>
<circle cx="409.9" cy="209.6" r="4.0"/>
<circle cx="410.6" cy="209.1" r="4.0"/>
<circle cx="411.3" cy="209.2" r="4.0"/>
<circle cx="412.0" cy="208.0" r="4.0"/>
<circle cx="412.8" cy="207.8" r="4.0"/>
<circle cx="413.5" cy="207.6" r="4.0"/>
<circle cx="414.2" cy="207.4" r="4.0"/>
<circle cx="414.9" cy="207.9" r="4.0"/>
<circle cx="415.6" cy="208.4" r="4.0"/>
<circle cx="416.3" cy="208.5" r="4.0"/>
<circle cx="417.0" cy="208.2" r="4.0"/>
<circle cx="417.7" cy="208.2" r="4.0"/>
<circle cx="418.4" cy="209.0" r="4.0"/>
<circle cx="419.1" cy="208.9" r="4.0"/>
<circle cx="419.8" cy="209.4" r="4.0"/>
<circle cx="420.5" cy="209.9" r="4.0"/>
<circle cx="421.2" cy="209.7" r="4.0"/>
<circle cx="421.9" cy="211.0" r="4.0"/>
<circle cx="422.6" cy="210.7" r="4.0"/>
<circle cx="423.3" cy="211.7" r="4.0"/>
<circle cx="424.0" cy="212.7" r="4.0"/>
<circle cx="424.7" cy="212.8" r="4.0"/>
<circle cx="425.4" cy="213.2" r="4.0"/>
<circle cx="426.1" cy="214.2" r="4.0"/>
<circle cx="426.8" cy="215.1" r="4.0"/>
</g>
<g font-family='"Liberation Serif", serif' font-size="12.5" fill="#000" stroke="#000" stroke-width="0.12">
<text x="41.5" y="32.4" text-anchor="end">30</text>
<text x="41.5" y="74.4" text-anchor="end">20</text>
<text x="41.5" y="116.4" text-anchor="end">10</text>
<text x="41.5" y="158.4" text-anchor="end">0</text>
<text x="41.5" y="200.4" text-anchor="end">-10</text>
<text x="41.5" y="242.4" text-anchor="end">-20</text>
<text x="488.8" y="241.9" font-size="12.1">0.00%</text>
<text x="488.8" y="215.7" font-size="12.1">0.01%</text>
<text x="488.8" y="189.4" font-size="12.1">0.02%</text>
<text x="488.8" y="163.2" font-size="12.1">0.03%</text>
<text x="488.8" y="136.9" font-size="12.1">0.04%</text>
<text x="488.8" y="110.7" font-size="12.1">0.05%</text>
<text x="488.8" y="84.4" font-size="12.1">0.06%</text>
<text x="488.8" y="58.2" font-size="12.1">0.07%</text>
<text x="488.8" y="31.9" font-size="12.1">0.08%</text>
<text x="54.1" y="176" text-anchor="middle">0</text>
<text x="124.3" y="176" text-anchor="middle">10</text>
<text x="194.6" y="176" text-anchor="middle">20</text>
<text x="264.8" y="176" text-anchor="middle">30</text>
<text x="335.0" y="176" text-anchor="middle">40</text>
<text x="405.3" y="176" text-anchor="middle">50</text>
<text x="475.5" y="176" text-anchor="middle">60</text>
<text y="257"><tspan x="248" letter-spacing="0.3">Time</tspan><tspan x="276.3" stroke="none" font-family='"Liberation Serif", "Noto Serif CJK SC", serif'>（</tspan><tspan x="288.6">s</tspan><tspan x="292.9" stroke="none" font-family='"Liberation Serif", "Noto Serif CJK SC", serif'>）</tspan></text>
<text id="yl" transform="translate(16.4,156) rotate(-90)" letter-spacing="0">TTC(s)</text>
<text id="yr" transform="translate(540.8,201.6) rotate(-90)" font-size="13.2" letter-spacing="0.32">Collision probability</text>
<text id="l1" x="200.6" y="16.9">TTC</text>
<text id="l2" x="268.5" y="16.9" letter-spacing="0.4">collision probability</text>
</g>
<line x1="166.4" y1="13.2" x2="197" y2="13.2" stroke="#FF6F0F" stroke-width="1.45"/>
<path d="M178.9 10.299999999999999l5.8 5.8M178.9 16.099999999999998l5.8 -5.8" stroke="#FF6F0F" stroke-width="1.25" fill="none"/>
<circle cx="250.4" cy="13.4" r="3.5" fill="#146CCB"/>
</svg>
</body></html>
